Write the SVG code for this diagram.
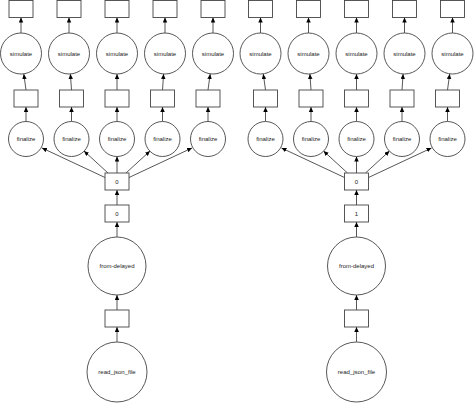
<svg xmlns="http://www.w3.org/2000/svg" width="474" height="404" viewBox="0 0 474 404">
<defs>
<marker id="ah" markerUnits="userSpaceOnUse" markerWidth="6" markerHeight="5" refX="5" refY="2.25" orient="auto">
<path d="M0,0 L5,2.25 L0,4.5 z" fill="#000"/>
</marker>
<style>
.n{fill:#fff;stroke:#444;stroke-width:0.9}
.t{font-family:"Liberation Sans",Arial,sans-serif;font-size:6px;fill:#222;text-anchor:middle}
.e{stroke:#444;stroke-width:0.9;fill:none;marker-end:url(#ah)}
</style>
</defs>
<rect width="474" height="404" fill="#fff"/>
<g id="graphA">
<g id="edgesA">
<line class="e" x1="21" y1="33" x2="21" y2="17.5"/>
<line class="e" x1="69" y1="33" x2="69" y2="17.5"/>
<line class="e" x1="117" y1="33" x2="117" y2="17.5"/>
<line class="e" x1="165" y1="33" x2="165" y2="17.5"/>
<line class="e" x1="213" y1="33" x2="213" y2="17.5"/>
<line class="e" x1="26" y1="90" x2="23.8" y2="74"/>
<line class="e" x1="71.5" y1="90" x2="70.4" y2="74"/>
<line class="e" x1="117" y1="90" x2="117" y2="74"/>
<line class="e" x1="162.5" y1="90" x2="163.6" y2="74"/>
<line class="e" x1="208" y1="90" x2="210.2" y2="74"/>
<line class="e" x1="26" y1="121.5" x2="26" y2="107"/>
<line class="e" x1="71.5" y1="121.5" x2="71.5" y2="107"/>
<line class="e" x1="117" y1="121.5" x2="117" y2="107"/>
<line class="e" x1="162.5" y1="121.5" x2="162.5" y2="107"/>
<line class="e" x1="208" y1="121.5" x2="208" y2="107"/>
<line class="e" x1="105" y1="177.5" x2="42" y2="148"/>
<line class="e" x1="108" y1="173" x2="84" y2="151"/>
<line class="e" x1="117" y1="173" x2="117" y2="156.5"/>
<line class="e" x1="126" y1="173" x2="150" y2="151"/>
<line class="e" x1="129" y1="177.5" x2="192" y2="148"/>
<line class="e" x1="117" y1="205" x2="117" y2="190"/>
<line class="e" x1="117" y1="237" x2="117" y2="222"/>
<line class="e" x1="117" y1="310" x2="117" y2="295"/>
<line class="e" x1="117" y1="342" x2="117" y2="327"/>
</g>
<g id="a_out1"><rect class="n" x="9" y="0.5" width="24" height="17"/></g>
<g id="a_out2"><rect class="n" x="57" y="0.5" width="24" height="17"/></g>
<g id="a_out3"><rect class="n" x="105" y="0.5" width="24" height="17"/></g>
<g id="a_out4"><rect class="n" x="153" y="0.5" width="24" height="17"/></g>
<g id="a_out5"><rect class="n" x="201" y="0.5" width="24" height="17"/></g>
<g id="a_sim1"><circle class="n" cx="21" cy="53.5" r="20.5"/><text class="t" x="21" y="55.5">simulate</text></g>
<g id="a_sim2"><circle class="n" cx="69" cy="53.5" r="20.5"/><text class="t" x="69" y="55.5">simulate</text></g>
<g id="a_sim3"><circle class="n" cx="117" cy="53.5" r="20.5"/><text class="t" x="117" y="55.5">simulate</text></g>
<g id="a_sim4"><circle class="n" cx="165" cy="53.5" r="20.5"/><text class="t" x="165" y="55.5">simulate</text></g>
<g id="a_sim5"><circle class="n" cx="213" cy="53.5" r="20.5"/><text class="t" x="213" y="55.5">simulate</text></g>
<g id="a_mid1"><rect class="n" x="14" y="90" width="24" height="17"/></g>
<g id="a_mid2"><rect class="n" x="59.5" y="90" width="24" height="17"/></g>
<g id="a_mid3"><rect class="n" x="105" y="90" width="24" height="17"/></g>
<g id="a_mid4"><rect class="n" x="150.5" y="90" width="24" height="17"/></g>
<g id="a_mid5"><rect class="n" x="196" y="90" width="24" height="17"/></g>
<g id="a_fin1"><circle class="n" cx="26" cy="139" r="17.5"/><text class="t" x="26" y="141">finalize</text></g>
<g id="a_fin2"><circle class="n" cx="71.5" cy="139" r="17.5"/><text class="t" x="71.5" y="141">finalize</text></g>
<g id="a_fin3"><circle class="n" cx="117" cy="139" r="17.5"/><text class="t" x="117" y="141">finalize</text></g>
<g id="a_fin4"><circle class="n" cx="162.5" cy="139" r="17.5"/><text class="t" x="162.5" y="141">finalize</text></g>
<g id="a_fin5"><circle class="n" cx="208" cy="139" r="17.5"/><text class="t" x="208" y="141">finalize</text></g>
<g id="a_split"><rect class="n" x="105" y="173" width="24" height="17"/><text class="t" x="117" y="183.5">0</text></g>
<g id="a_idx"><rect class="n" x="105" y="205" width="24" height="17"/><text class="t" x="117" y="215.5">0</text></g>
<g id="a_fromdelayed"><circle class="n" cx="117" cy="266" r="29"/><text class="t" x="117" y="268">from-delayed</text></g>
<g id="a_data"><rect class="n" x="105" y="310" width="24" height="17"/></g>
<g id="a_read"><circle class="n" cx="117" cy="372" r="30"/><text class="t" x="117" y="374">read_json_file</text></g>
</g>
<g id="graphB" transform="translate(239.5,0)">
<g id="edgesB">
<line class="e" x1="21" y1="33" x2="21" y2="17.5"/>
<line class="e" x1="69" y1="33" x2="69" y2="17.5"/>
<line class="e" x1="117" y1="33" x2="117" y2="17.5"/>
<line class="e" x1="165" y1="33" x2="165" y2="17.5"/>
<line class="e" x1="213" y1="33" x2="213" y2="17.5"/>
<line class="e" x1="26" y1="90" x2="23.8" y2="74"/>
<line class="e" x1="71.5" y1="90" x2="70.4" y2="74"/>
<line class="e" x1="117" y1="90" x2="117" y2="74"/>
<line class="e" x1="162.5" y1="90" x2="163.6" y2="74"/>
<line class="e" x1="208" y1="90" x2="210.2" y2="74"/>
<line class="e" x1="26" y1="121.5" x2="26" y2="107"/>
<line class="e" x1="71.5" y1="121.5" x2="71.5" y2="107"/>
<line class="e" x1="117" y1="121.5" x2="117" y2="107"/>
<line class="e" x1="162.5" y1="121.5" x2="162.5" y2="107"/>
<line class="e" x1="208" y1="121.5" x2="208" y2="107"/>
<line class="e" x1="105" y1="177.5" x2="42" y2="148"/>
<line class="e" x1="108" y1="173" x2="84" y2="151"/>
<line class="e" x1="117" y1="173" x2="117" y2="156.5"/>
<line class="e" x1="126" y1="173" x2="150" y2="151"/>
<line class="e" x1="129" y1="177.5" x2="192" y2="148"/>
<line class="e" x1="117" y1="205" x2="117" y2="190"/>
<line class="e" x1="117" y1="237" x2="117" y2="222"/>
<line class="e" x1="117" y1="310" x2="117" y2="295"/>
<line class="e" x1="117" y1="342" x2="117" y2="327"/>
</g>
<g id="b_out1"><rect class="n" x="9" y="0.5" width="24" height="17"/></g>
<g id="b_out2"><rect class="n" x="57" y="0.5" width="24" height="17"/></g>
<g id="b_out3"><rect class="n" x="105" y="0.5" width="24" height="17"/></g>
<g id="b_out4"><rect class="n" x="153" y="0.5" width="24" height="17"/></g>
<g id="b_out5"><rect class="n" x="201" y="0.5" width="24" height="17"/></g>
<g id="b_sim1"><circle class="n" cx="21" cy="53.5" r="20.5"/><text class="t" x="21" y="55.5">simulate</text></g>
<g id="b_sim2"><circle class="n" cx="69" cy="53.5" r="20.5"/><text class="t" x="69" y="55.5">simulate</text></g>
<g id="b_sim3"><circle class="n" cx="117" cy="53.5" r="20.5"/><text class="t" x="117" y="55.5">simulate</text></g>
<g id="b_sim4"><circle class="n" cx="165" cy="53.5" r="20.5"/><text class="t" x="165" y="55.5">simulate</text></g>
<g id="b_sim5"><circle class="n" cx="213" cy="53.5" r="20.5"/><text class="t" x="213" y="55.5">simulate</text></g>
<g id="b_mid1"><rect class="n" x="14" y="90" width="24" height="17"/></g>
<g id="b_mid2"><rect class="n" x="59.5" y="90" width="24" height="17"/></g>
<g id="b_mid3"><rect class="n" x="105" y="90" width="24" height="17"/></g>
<g id="b_mid4"><rect class="n" x="150.5" y="90" width="24" height="17"/></g>
<g id="b_mid5"><rect class="n" x="196" y="90" width="24" height="17"/></g>
<g id="b_fin1"><circle class="n" cx="26" cy="139" r="17.5"/><text class="t" x="26" y="141">finalize</text></g>
<g id="b_fin2"><circle class="n" cx="71.5" cy="139" r="17.5"/><text class="t" x="71.5" y="141">finalize</text></g>
<g id="b_fin3"><circle class="n" cx="117" cy="139" r="17.5"/><text class="t" x="117" y="141">finalize</text></g>
<g id="b_fin4"><circle class="n" cx="162.5" cy="139" r="17.5"/><text class="t" x="162.5" y="141">finalize</text></g>
<g id="b_fin5"><circle class="n" cx="208" cy="139" r="17.5"/><text class="t" x="208" y="141">finalize</text></g>
<g id="b_split"><rect class="n" x="105" y="173" width="24" height="17"/><text class="t" x="117" y="183.5">0</text></g>
<g id="b_idx"><rect class="n" x="105" y="205" width="24" height="17"/><text class="t" x="117" y="215.5">1</text></g>
<g id="b_fromdelayed"><circle class="n" cx="117" cy="266" r="29"/><text class="t" x="117" y="268">from-delayed</text></g>
<g id="b_data"><rect class="n" x="105" y="310" width="24" height="17"/></g>
<g id="b_read"><circle class="n" cx="117" cy="372" r="30"/><text class="t" x="117" y="374">read_json_file</text></g>
</g>
</svg>
